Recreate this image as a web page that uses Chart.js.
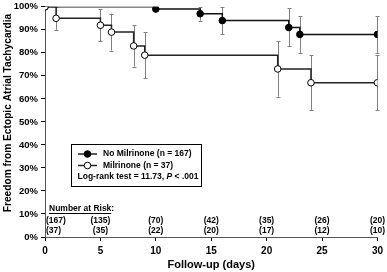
<!DOCTYPE html>
<html><head><meta charset="utf-8">
<script src="https://cdn.jsdelivr.net/npm/chart.js@4.4.1/dist/chart.umd.min.js"></script>
<style>html,body{margin:0;padding:0;background:#fff}#w{width:387px;height:272px}</style>
</head><body><div id="w"><canvas id="c"></canvas></div>
<script>
// Kaplan-Meier data
const noMilDays   = [0, 10, 14, 16, 22, 23, 30];
const noMilSurv   = [100, 99, 97, 94, 91, 88, 88];
const noMilLow    = [null, null, 94, 88, 83, 80, 80];
const noMilHigh   = [null, null, 99.8, 99.8, 99.3, 96, 96];

const milDays     = [0, 1, 5, 6, 8, 9, 21, 24, 30];
const milSurv     = [100, 95, 92, 89, 83, 79, 73, 67, 67];
const milLow      = [null, 90, 85, 81, 74, 69, 61, 55, 55];
const milHigh     = [null, 99.7, 99, 97, 92, 89, 85, 79, 79];

const riskTimes   = [0, 5, 10, 15, 20, 25, 30];
const riskNoMil   = [167, 135, 70, 42, 35, 26, 20];
const riskMil     = [37, 35, 22, 20, 17, 12, 10];

const yTicks = [0,10,20,30,40,50,60,70,80,90,100];

const F = '"Liberation Sans", Arial, sans-serif';

function pts(xs, ys){ return xs.map((x,i)=>({x:x,y:ys[i]})); }

const extras = {
  id:'extras',
  beforeDatasetsDraw(chart){
    const ctx = chart.ctx, xs = chart.scales.x, ys = chart.scales.y;
    ctx.save();
    ctx.strokeStyle = '#808080'; ctx.lineWidth = 1;
    const bars = [[noMilDays,noMilLow,noMilHigh],[milDays,milLow,milHigh]];
    bars.forEach(([d,lo,hi])=>{
      d.forEach((t,i)=>{
        if(lo[i]==null) return;
        const x = Math.round(xs.getPixelForValue(t))+0.5;
        const y1 = ys.getPixelForValue(lo[i]), y2 = ys.getPixelForValue(hi[i]);
        ctx.beginPath();
        ctx.moveTo(x,y1); ctx.lineTo(x,y2);
        ctx.moveTo(x-2,Math.round(y1)+0.5); ctx.lineTo(x+2,Math.round(y1)+0.5);
        ctx.moveTo(x-2,Math.round(y2)+0.5); ctx.lineTo(x+2,Math.round(y2)+0.5);
        ctx.stroke();
      });
    });
    ctx.restore();
  },
  afterDraw(chart){
    const ctx = chart.ctx, xs = chart.scales.x, ca = chart.chartArea;
    ctx.save();
    // y-axis title
    ctx.fillStyle = '#000';
    ctx.font = 'bold 10.2px ' + F;
    ctx.textAlign = 'center'; ctx.textBaseline = 'middle';
    ctx.translate(8.5, 113); ctx.rotate(-Math.PI/2);
    ctx.fillText('Freedom from Ectopic Atrial Tachycardia', 0, 0);
    ctx.setTransform(1,0,0,1,0,0);
    ctx.font = 'bold 8.5px ' + F;
    // Number at risk
    ctx.textAlign = 'left';
    const lbl = 'Number at Risk:';
    ctx.fillText(lbl, 49, 209);
    const w = ctx.measureText(lbl).width;
    ctx.fillRect(49, 213, w - 3, 1);
    const W = chart.width;
    [[riskNoMil,221],[riskMil,231]].forEach(([arr,y])=>{
      arr.forEach((n,i)=>{
        const s = '(' + n + ')';
        const tw = ctx.measureText(s).width;
        let x = xs.getPixelForValue(riskTimes[i]) - tw/2;
        if (x < ca.left + 1) x = ca.left + 1;
        if (x + tw > W - 0.5) x = W - 0.5 - tw;
        ctx.fillText(s, x, y);
      });
    });
    // Legend box
    ctx.strokeStyle = '#000'; ctx.lineWidth = 1;
    ctx.strokeRect(71.5, 144.5, 130, 42);
    const rows = [[154,'#000','No Milrinone (n = 167)'],[165.5,'#fff','Milrinone (n = 37)']];
    rows.forEach(([y,fill,txt])=>{
      ctx.strokeStyle = '#222'; ctx.lineWidth = 1.5;
      ctx.beginPath(); ctx.moveTo(78,y); ctx.lineTo(97,y); ctx.stroke();
      ctx.beginPath(); ctx.arc(87.5,y,3.3,0,Math.PI*2);
      ctx.fillStyle = fill; ctx.fill();
      ctx.lineWidth = 1; ctx.strokeStyle = '#000'; ctx.stroke();
      ctx.fillStyle = '#000';
      ctx.fillText(txt, 103, y);
    });
    let x = 77.5, y = 177;
    const p1 = 'Log-rank test = 11.73, ';
    ctx.fillText(p1, x, y); x += ctx.measureText(p1).width;
    ctx.font = 'bold italic 8.5px ' + F;
    ctx.fillText('P', x, y); x += ctx.measureText('P').width;
    ctx.font = 'bold 8.5px ' + F;
    ctx.fillText(' < .001', x, y);
    ctx.restore();
  }
};

new Chart(document.getElementById('c'), {
  type: 'line',
  data: {
    datasets: [
      { label:'Milrinone (n = 37)', data: pts(milDays, milSurv), stepped: true,
        borderColor:'#222', borderWidth:1.5, pointRadius:3.3, pointBackgroundColor:'#fff',
        pointBorderColor:'#000', pointBorderWidth:1, order:0, tension:0 },
      { label:'No Milrinone (n = 167)', data: pts(noMilDays, noMilSurv), stepped: true,
        borderColor:'#111', borderWidth:1.5, pointRadius:3.3, pointBackgroundColor:'#000',
        pointBorderColor:'#000', pointBorderWidth:1, order:1, tension:0 }
    ]
  },
  options: {
    responsive: true, maintainAspectRatio: false, animation: false,
    layout: { padding: { top: 0, right: 2, left: 0, bottom: 0 } },
    plugins: { legend: { display:false }, tooltip: { enabled:false } },
    scales: {
      x: { type:'linear', min:0, max:30,
        afterBuildTicks: s => { s.ticks = riskTimes.map(v=>({value:v})); },
        ticks: { color:'#000', font:{ family:F, weight:'bold', size:10 }, padding:4 },
        grid: { display:true, drawOnChartArea:false, drawTicks:true, tickLength:4, color:'#000' },
        border: { display:true, color:'#555', width:1 },
        title: { display:true, text:'Follow-up (days)', color:'#000', font:{ family:F, weight:'bold', size:11 }, padding:{top:2,bottom:0} },
        afterFit: s => { s.height = 35; }
      },
      y: { min:0, max:100,
        afterBuildTicks: s => { s.ticks = yTicks.map(v=>({value:v})); },
        ticks: { color:'#000', font:{ family:F, weight:'bold', size:9.5, lineHeight:0.8 }, padding:3, callback: v => v + '%' },
        grid: { display:true, drawOnChartArea:false, drawTicks:true, tickLength:4, color:'#000' },
        border: { display:true, color:'#555', width:1 },
        title: { display:false },
        afterFit: s => { s.width = 45; }
      }
    }
  },
  plugins: [extras]
});
</script>
</body></html>
